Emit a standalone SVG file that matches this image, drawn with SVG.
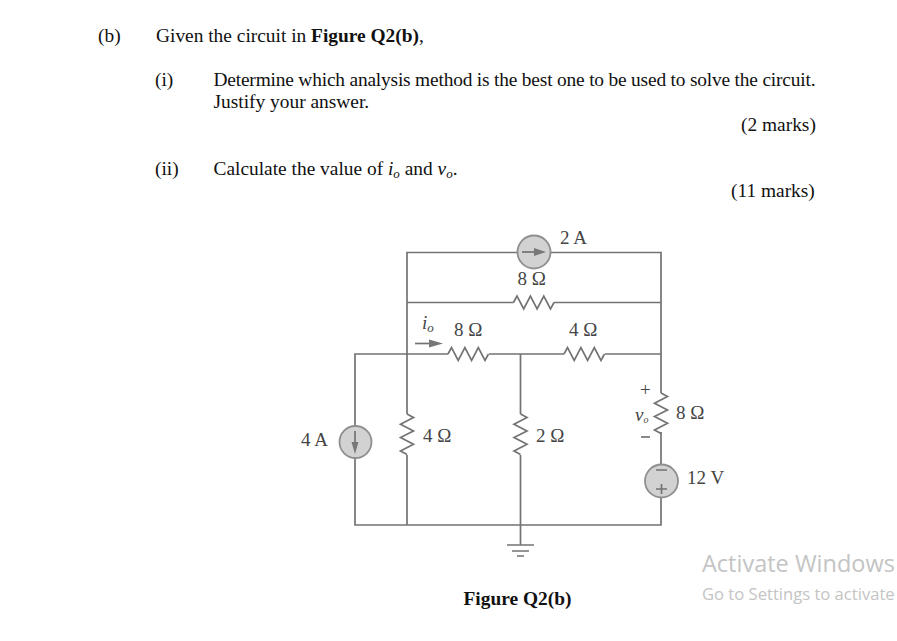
<svg xmlns="http://www.w3.org/2000/svg" width="897" height="641" viewBox="0 0 897 641">
<defs>
<style>
.q{font-family:"Liberation Serif",serif;font-size:19.4px;fill:#111}
.b{font-weight:bold}
.i{font-style:italic}
.c{font-family:"Liberation Serif",serif;font-size:19px;fill:#444}
.w{fill:none;stroke:#737373;stroke-width:1.7}
.s{fill:#d2d2d2;stroke:#8f8f8f;stroke-width:1.8}
.a{fill:#777;stroke:none}
.win{font-family:"Open Sans",sans-serif;fill:#c4c4c4}
</style>
<path id="rh" class="w" d="M0 0l3.500 -6.500l6.700 13l6.700 -13l6.700 13l6.700 -13l6.700 13l3.500 -6.500"/>
</defs>
<rect width="897" height="641" fill="#fff"/>
<g id="question">
<text class="q" x="98" y="42">(b)</text>
<text class="q" x="156" y="42">Given the circuit in <tspan class="b">Figure Q2(b)</tspan>,</text>
<text class="q" x="155" y="86">(i)</text>
<text class="q" x="213.500" y="86" textLength="602">Determine which analysis method is the best one to be used to solve the circuit.</text>
<text class="q" x="213.500" y="108">Justify your answer.</text>
<text class="q" x="741" y="131">(2 marks)</text>
<text class="q" x="155" y="175">(ii)</text>
<text class="q" x="213.500" y="175">Calculate the value of <tspan class="i">i</tspan><tspan class="i" font-size="13" dy="3">o</tspan><tspan dy="-3"> and </tspan><tspan class="i">v</tspan><tspan class="i" font-size="13" dy="3">o</tspan><tspan dy="-3">.</tspan></text>
<text class="q" x="731" y="197">(11 marks)</text>
<text class="q b" x="463.500" y="605">Figure Q2(b)</text>
</g>
<g id="connectors">
<path class="w" d="M407 354V252.500H517.500M550.500 252.500H661V354"/>
<path class="w" d="M407 302.500H513.500M554 302.500H661"/>
<path class="w" d="M355 426V354H448M489 354H564M605 354H661V393M661 432V465"/>
<path class="w" d="M355 458V525H661V497"/>
<path class="w" d="M407 354V414M407 455V525"/>
<path class="w" d="M520.500 354V414M520.500 455V545"/>
<path class="w" d="M507 545H534M512 551H529M517 556H524"/>
<path class="w" d="M415 343.500H431"/>
<path class="a" d="M429 339.500L443 343.500L429 347.500Z"/>
</g>
<g id="r8top"><use href="#rh" x="513.500" y="302.500"/><text class="c" x="517.500" y="285">8 Ω</text></g>
<g id="r8left"><use href="#rh" x="448" y="354"/><text class="c" x="454" y="336">8 Ω</text></g>
<g id="r4right"><use href="#rh" x="564" y="354"/><text class="c" x="569" y="336">4 Ω</text></g>
<g id="r4vert"><use href="#rh" transform="translate(407 414) rotate(90)"/><text class="c" x="423" y="442">4 Ω</text></g>
<g id="r2vert"><use href="#rh" transform="translate(520.500 414) rotate(90)"/><text class="c" x="536" y="442">2 Ω</text></g>
<g id="r8vo"><use href="#rh" transform="translate(661 393) rotate(90)"/><text class="c" x="676" y="419">8 Ω</text></g>
<g id="vo">
<text class="c" x="640" y="396" font-size="17">+</text>
<text class="c i" x="635" y="421" font-size="15">v<tspan font-size="10" dy="2">o</tspan></text>
<path class="w" d="M641 437H650"/>
</g>
<g id="io"><text class="c i" x="422" y="329" font-size="19">i<tspan font-size="13" dy="3">o</tspan></text></g>
<g id="source2A">
<circle class="s" cx="534" cy="252" r="16.500"/>
<path class="w" d="M522 252H538"/><path class="a" d="M534 248L546 252L534 256Z"/>
<text class="c" x="560" y="244">2 A</text>
</g>
<g id="source4A">
<circle class="s" cx="355.500" cy="442" r="16"/>
<path class="w" d="M355 431V445"/><path class="a" d="M351.500 442L355 454L358.500 442Z"/>
<text class="c" x="301" y="446">4 A</text>
</g>
<g id="source12V">
<circle class="s" cx="661.500" cy="481" r="16.500"/>
<path class="w" d="M656 470H667M656 489H667M661.500 484V494"/>
<text class="c" x="687" y="484">12 V</text>
</g>
<g id="watermark">
<text class="win" x="702" y="572" font-size="23.500">Activate Windows</text>
<text class="win" x="702" y="600" font-size="16.600">Go to Settings to activate</text>
</g>
</svg>
